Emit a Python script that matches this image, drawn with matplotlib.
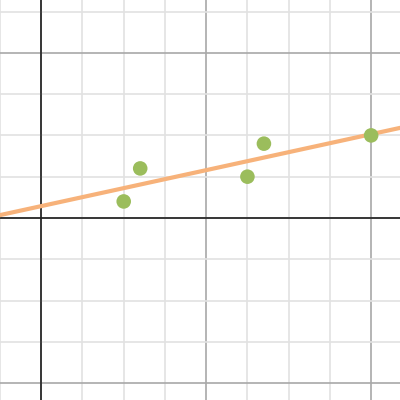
import numpy as np
import matplotlib
matplotlib.use('Agg')
from matplotlib import pyplot as plt

# data points
xs = [2.0, 2.4, 5.0, 5.4, 8.0]
ys = [0.4, 1.2, 1.0, 1.8, 2.0]

x_min, x_max = -1.0, 8.7
y_min, y_max = -4.41, 5.28

fig = plt.figure(figsize=(4, 4), dpi=100)
ax = fig.add_axes([0, 0, 1, 1])
ax.set_xlim(x_min, x_max)
ax.set_ylim(y_min, y_max)

# minor and major grid
for gx in range(-1, 9):
    ax.axvline(gx, color='#a8a8a8' if gx % 4 == 0 else '#e2e2e2', lw=1.2 if gx % 4 == 0 else 1.2, zorder=0)
for gy in range(-4, 6):
    ax.axhline(gy, color='#a8a8a8' if gy % 4 == 0 else '#e2e2e2', lw=1.2, zorder=0)
ax.axvline(0, color='#222222', lw=1.2, zorder=1)
ax.axhline(0, color='#222222', lw=1.2, zorder=1)

slope, intercept = np.polyfit(xs, ys, 1)
lx = np.array([x_min, x_max])
ax.plot(lx, slope * lx + intercept, color='#f7b27a', lw=3, zorder=2)
ax.scatter(xs, ys, s=110, color='#9bbd5c', zorder=3, edgecolors='none')

ax.set_xticks([])
ax.set_yticks([])
for s in ax.spines.values():
    s.set_visible(False)

plt.savefig('out.png', dpi=100)
